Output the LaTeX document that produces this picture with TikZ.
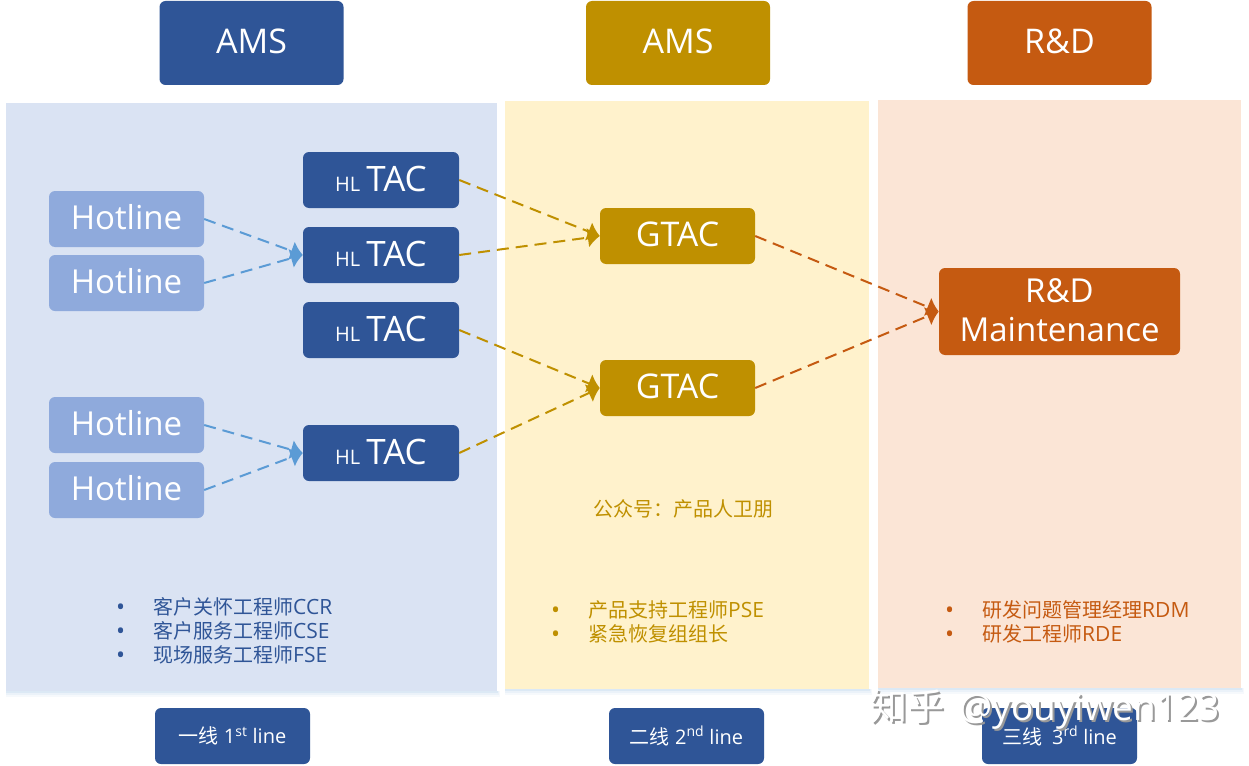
\documentclass[tikz,border=0pt]{standalone}
\usepackage{fontspec}
\setmainfont{Open Sans}
\newfontfamily\cjk{Noto Sans CJK SC}
\usetikzlibrary{arrows.meta}
\definecolor{navy}{HTML}{2F5597}
\definecolor{gold}{HTML}{BF9000}
\definecolor{rust}{HTML}{C55A11}
\definecolor{panelA}{HTML}{DAE3F3}
\definecolor{panelB}{HTML}{FFF2CC}
\definecolor{panelC}{HTML}{FBE5D6}
\definecolor{hot}{HTML}{8FAADC}
\definecolor{sky}{HTML}{5B9BD5}
\newcommand{\fs}[1]{\fontsize{#1}{#1}\selectfont}
\newcommand{\up}[2]{\raisebox{#1}{#2}}
\newcommand{\bul}[2]{\hbox to 35pt{\textcolor{#1}{\fs{24}\raisebox{-1.5pt}{\textbullet}}\hss}#2}
\newcommand{\zh}[1]{{\fs{20}\cjk #1}}
\tikzset{
  box/.style={rectangle,rounded corners=6pt,inner sep=0pt,text=white,align=center},
  head/.style={box,minimum width=184pt,minimum height=84pt,font=\fs{34}},
  hotbox/.style={box,fill=hot,minimum width=155pt,minimum height=56pt,font=\fs{33}},
  tacbox/.style={box,fill=navy,minimum width=156pt,minimum height=56pt},
  gtacbox/.style={box,fill=gold,minimum width=155pt,minimum height=56pt,font=\fs{34}},
  linebox/.style={box,fill=navy,minimum width=155pt,minimum height=56pt,font=\fs{20}},
  panel/.style={rectangle,inner sep=0pt,anchor=north west},
  conn/.style={dash pattern=on 12pt off 7pt,line width=2pt},
  tip/.style={-{Latex[length=12pt,width=20pt]}},
  lst/.style={inner sep=0pt,anchor=north west,align=left,font=\fs{21}}
}
\newcommand{\tac}{\up{3pt}{{\fs{20}HL}\hskip 6pt{\fs{35}TAC}}}
\begin{document}
\begin{tikzpicture}[x=1pt,y=-1pt]
\useasboundingbox (0,0) rectangle (1249,765);
\fill[white] (0,0) rectangle (1249,765);
% soft shadows
\foreach \o/\a in {6/0.05,4/0.07,2/0.10}{
  \fill[sky,opacity=\a] (6,691) rectangle (497+\o/2,691+\o);
  \fill[sky,opacity=\a] (505,689) rectangle (869+\o/2,689+\o);
  \fill[sky,opacity=\a] (878,688) rectangle (1241+\o/2,688+\o);
}
\node[panel,fill=panelA,minimum width=491pt,minimum height=588pt] (pa) at (6,103) {};
\node[panel,fill=panelB,minimum width=364pt,minimum height=588pt] (pb) at (505,101) {};
\node[panel,fill=panelC,minimum width=363pt,minimum height=588pt] (pc) at (878,100) {};

\node[head,fill=navy] (ha) at (251.5,43) {\up{4pt}{AMS}};
\node[head,fill=gold] (hb) at (678,43) {\up{4pt}{AMS}};
\node[head,fill=rust] (hc) at (1059.5,43) {\up{4pt}{R\&D}};

\node[hotbox] (h1) at (126.5,219) {\up{5pt}{Hotline}};
\node[hotbox] (h2) at (126.5,283) {\up{5pt}{Hotline}};
\node[hotbox] (h3) at (126.5,425) {\up{5pt}{Hotline}};
\node[hotbox] (h4) at (126.5,490) {\up{5pt}{Hotline}};

\node[tacbox] (t1) at (381,180) {\tac};
\node[tacbox] (t2) at (381,255) {\tac};
\node[tacbox] (t3) at (381,330) {\tac};
\node[tacbox] (t4) at (381,453) {\tac};

\node[gtacbox] (g1) at (677.5,236) {\up{4pt}{GTAC}};
\node[gtacbox] (g2) at (677.5,388) {\up{4pt}{GTAC}};

\node[box,fill=rust,minimum width=241pt,minimum height=87pt,font=\fs{33}] (rd) at (1059.5,311.5) {\up{2pt}{R\&D}\\[6pt]\up{2pt}{Maintenance}};

\draw[conn,sky,tip] (h1.east) -- (t2.west);
\draw[conn,sky,tip] (h2.east) -- (t2.west);
\draw[conn,sky,tip] (h3.east) -- (t4.west);
\draw[conn,sky,tip] (h4.east) -- (t4.west);
\draw[conn,gold,tip] (t1.east) -- (g1.west);
\draw[conn,gold,tip] (t2.east) -- (g1.west);
\draw[conn,gold,tip] (t3.east) -- (g2.west);
\draw[conn,gold,tip] (t4.east) -- (g2.west);
\draw[conn,rust,tip] (g1.east) -- (rd.west);
\draw[conn,rust,tip] (g2.east) -- (rd.west);

\node[inner sep=0pt,text=gold,font=\fs{20}\cjk] (wx) at (683,509) {公众号：产品人卫朋};

\node[lst,text=navy] (la) at (116,597) {\bul{navy}{\hskip 2pt\zh{客户关怀工程师}CCR}\\[3pt]\bul{navy}{\hskip 2pt\zh{客户服务工程师}CSE}\\[3pt]\bul{navy}{\hskip 2pt\zh{现场服务工程师}FSE}};
\node[lst,text=gold] (lb) at (551,600) {\bul{gold}{\hskip 2pt\zh{产品支持工程师}PSE}\\[3pt]\bul{gold}{\hskip 2pt\zh{紧急恢复组组长}}};
\node[lst,text=rust] (lc) at (945,600) {\bul{rust}{\hskip 2pt\zh{研发问题管理经理}RDM}\\[3pt]\bul{rust}{\hskip 2pt\zh{研发工程师}RDE}};

\node[linebox] (b1) at (232.5,736) {\raisebox{-3pt}{{\cjk 一线} 1\textsuperscript{st} line}};
\node[linebox] (b2) at (686.5,736) {\raisebox{-3pt}{{\cjk 二线} 2\textsuperscript{nd} line}};
\node[linebox] (b3) at (1059.5,736) {\raisebox{-3pt}{{\cjk 三线}\hskip 10pt 3\textsuperscript{rd} line}};

\node[inner sep=0pt,anchor=west,text=black!40,font=\fs{37}] (ws) at (872,711.5) {{\cjk 知乎}\hskip 15pt @youyiwen123};
\node[inner sep=0pt,anchor=west,text=white,font=\fs{37}] (wm) at (870,709.5) {{\cjk 知乎}\hskip 15pt @youyiwen123};
\end{tikzpicture}
\end{document}
